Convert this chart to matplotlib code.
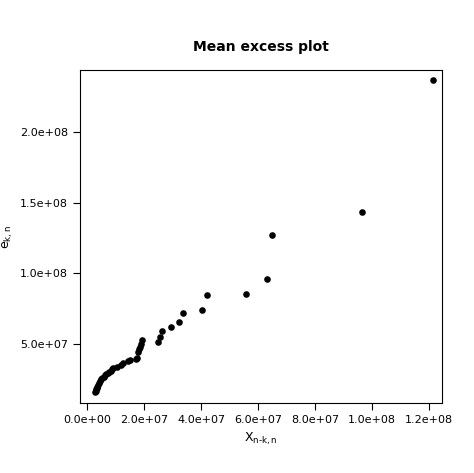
import matplotlib
matplotlib.use("Agg")
import matplotlib.pyplot as plt

# threshold X_{n-k,n} and mean excess e_{k,n}
x_vals = [2.8e6, 3.0e6, 3.2e6, 3.4e6, 3.6e6, 3.9e6, 4.2e6, 4.5e6, 4.9e6, 5.3e6,
          5.8e6, 6.3e6, 6.8e6, 7.3e6, 7.8e6, 8.3e6, 8.8e6, 9.2e6, 1.05e7, 1.2e7,
          1.27e7, 1.45e7, 1.5e7, 1.7e7, 1.74e7, 1.8e7, 1.83e7, 1.86e7, 1.9e7, 1.94e7,
          2.5e7, 2.56e7, 2.62e7, 2.94e7, 3.22e7, 3.38e7, 4.05e7, 4.22e7, 5.57e7,
          6.32e7, 6.5e7, 9.65e7, 1.214e8]
e_vals = [1.58e7, 1.65e7, 1.75e7, 1.85e7, 1.95e7, 2.05e7, 2.2e7, 2.32e7, 2.45e7, 2.55e7,
          2.65e7, 2.75e7, 2.85e7, 2.92e7, 3.0e7, 3.08e7, 3.16e7, 3.24e7, 3.35e7, 3.45e7,
          3.6e7, 3.75e7, 3.83e7, 3.9e7, 3.95e7, 4.42e7, 4.6e7, 4.77e7, 5.0e7, 5.25e7,
          5.08e7, 5.44e7, 5.89e7, 6.15e7, 6.5e7, 7.14e7, 7.38e7, 8.44e7, 8.53e7,
          9.6e7, 1.27e8, 1.43e8, 2.37e8]

x_ticks = [0, 2e7, 4e7, 6e7, 8e7, 1e8, 1.2e8]
y_ticks = [5e7, 1e8, 1.5e8, 2e8]

fig = plt.figure(figsize=(4.74, 4.73), dpi=100)
ax = fig.add_axes([0.169, 0.148, 0.763, 0.704])
ax.scatter(x_vals, e_vals, s=14, color="black", zorder=3)
ax.set_xlim(-2.46e6, 1.2456e8)
ax.set_ylim(7.8e6, 2.44e8)
ax.set_xticks(x_ticks)
ax.set_xticklabels([f"{v:.1e}" for v in x_ticks], fontsize=8)
ax.set_yticks(y_ticks)
ax.set_yticklabels([f"{v:.1e}" for v in y_ticks], fontsize=8)
ax.tick_params(direction="out", length=5)
ax.set_title("Mean excess plot", fontsize=10, fontweight="bold", pad=14)
ax.set_xlabel(r"X$_{\mathrm{n\text{-}k,n}}$", fontsize=9)
ax.set_ylabel(r"e$_{\mathrm{k,n}}$", fontsize=9)
fig.savefig("out.png", dpi=100)
